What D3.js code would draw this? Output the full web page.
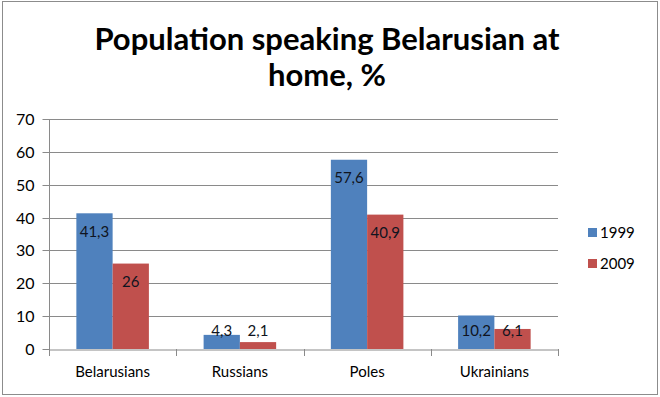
<!DOCTYPE html>
<html><head><meta charset="utf-8">
<script src="https://cdn.jsdelivr.net/npm/d3@7"></script>
<style>
html,body{margin:0;padding:0;background:#fff;}
svg{display:block;font-family:Lato,"Open Sans",sans-serif;}
</style></head>
<body>
<svg id="chart" width="660" height="397"></svg>
<script>
const titleLines = ["Population speaking Belarusian at", "home, %"];
const categories = ["Belarusians", "Russians", "Poles", "Ukrainians"];
const seriesNames = ["1999", "2009"];
const values1999 = [41.3, 4.3, 57.6, 10.2];
const values2009 = [26, 2.1, 40.9, 6.1];
const yTicks = [0, 10, 20, 30, 40, 50, 60, 70];
const colors = ["#4F81BD", "#C0504D"];

const svg = d3.select("#chart");
const W = 660, H = 397;
const m = {left: 49, right: 102, top: 119, bottom: 48};
const plotW = W - m.left - m.right;
const plotH = H - m.top - m.bottom;

// outer frame
svg.append("rect").attr("x", 2.5).attr("y", 1.5).attr("width", 655).attr("height", 393)
  .attr("fill", "#fff").attr("stroke", "#8c8c8c").attr("stroke-width", 1);

// title
const title = svg.append("text").attr("text-anchor", "middle")
  .attr("font-weight", "bold").attr("font-size", 31).attr("fill", "#000");
titleLines.forEach((t, i) => {
  title.append("tspan").attr("x", 327).attr("y", 50 + i * 36).text(t);
});

const g = svg.append("g").attr("transform", `translate(${m.left},${m.top})`);

const x = d3.scaleBand().domain(categories).range([0, plotW]).paddingInner(0).paddingOuter(0);
const x1 = d3.scaleBand().domain(seriesNames).range([0, x.bandwidth() * 0.57]);
const groupOffset = x.bandwidth() * 0.215;
const y = d3.scaleLinear().domain([0, 70]).range([plotH, 0]);

// gridlines
g.append("g").selectAll("line").data(yTicks.filter(d => d > 0)).join("line")
  .attr("x1", 0).attr("x2", plotW)
  .attr("y1", d => Math.round(y(d)) + 0.5).attr("y2", d => Math.round(y(d)) + 0.5)
  .attr("stroke", "#8a8a8a").attr("stroke-width", 1);

// y axis
const yAxis = g.append("g").attr("transform", "translate(0.5,0)")
  .call(d3.axisLeft(y).tickValues(yTicks).tickSize(7).tickPadding(8));
yAxis.select(".domain").attr("stroke", "#8a8a8a").attr("d", `M0,${y(70)}V${plotH + 0.5}`);
yAxis.selectAll(".tick line").attr("stroke", "#8a8a8a");
yAxis.selectAll(".tick").attr("transform", d => `translate(0,${Math.round(y(d)) + 0.5})`);
yAxis.selectAll("text").attr("font-size", 16).attr("fill", "#000").attr("font-family", "Lato");

// x axis
const xAxis = g.append("g").attr("transform", `translate(0,${plotH + 0.5})`)
  .call(d3.axisBottom(x).tickSize(0).tickPadding(17));
xAxis.select(".domain").attr("stroke", "#8a8a8a");
xAxis.selectAll("text").attr("font-size", 15).attr("fill", "#000").attr("font-family", "Lato");
// category separator ticks
g.append("g").selectAll("line").data(d3.range(categories.length + 1)).join("line")
  .attr("x1", i => Math.round(i * x.bandwidth()) + 0.5).attr("x2", i => Math.round(i * x.bandwidth()) + 0.5)
  .attr("y1", plotH).attr("y2", plotH + 7)
  .attr("stroke", "#8a8a8a");

// bars
const data = [];
categories.forEach((c, i) => {
  data.push({cat: c, s: seriesNames[0], v: values1999[i], col: colors[0]});
  data.push({cat: c, s: seriesNames[1], v: values2009[i], col: colors[1]});
});
const bx = d => x(d.cat) + groupOffset + x1(d.s);
g.append("g").selectAll("rect").data(data).join("rect")
  .attr("x", bx).attr("width", x1.bandwidth())
  .attr("y", d => y(d.v)).attr("height", d => plotH - y(d.v))
  .attr("fill", d => d.col);

// data labels
const fmt = v => String(v).replace(".", ",");
g.append("g").selectAll("text").data(data).join("text")
  .attr("x", d => bx(d) + x1.bandwidth() / 2)
  .attr("y", d => Math.min(y(d.v) + 18, plotH - 18))
  .attr("dy", "0.35em")
  .attr("text-anchor", "middle")
  .attr("font-size", 15).attr("fill", "#0f1420")
  .text(d => fmt(d.v));

// legend
const lg = svg.append("g").attr("transform", "translate(588,228)");
seriesNames.forEach((s, i) => {
  const row = lg.append("g").attr("transform", `translate(0,${i * 31})`);
  row.append("rect").attr("width", 9).attr("height", 9).attr("fill", colors[i]);
  row.append("text").attr("x", 12).attr("y", 4.5).attr("dy", "0.35em")
    .attr("font-size", 15).attr("fill", "#000").text(s);
});
</script>
</body></html>
